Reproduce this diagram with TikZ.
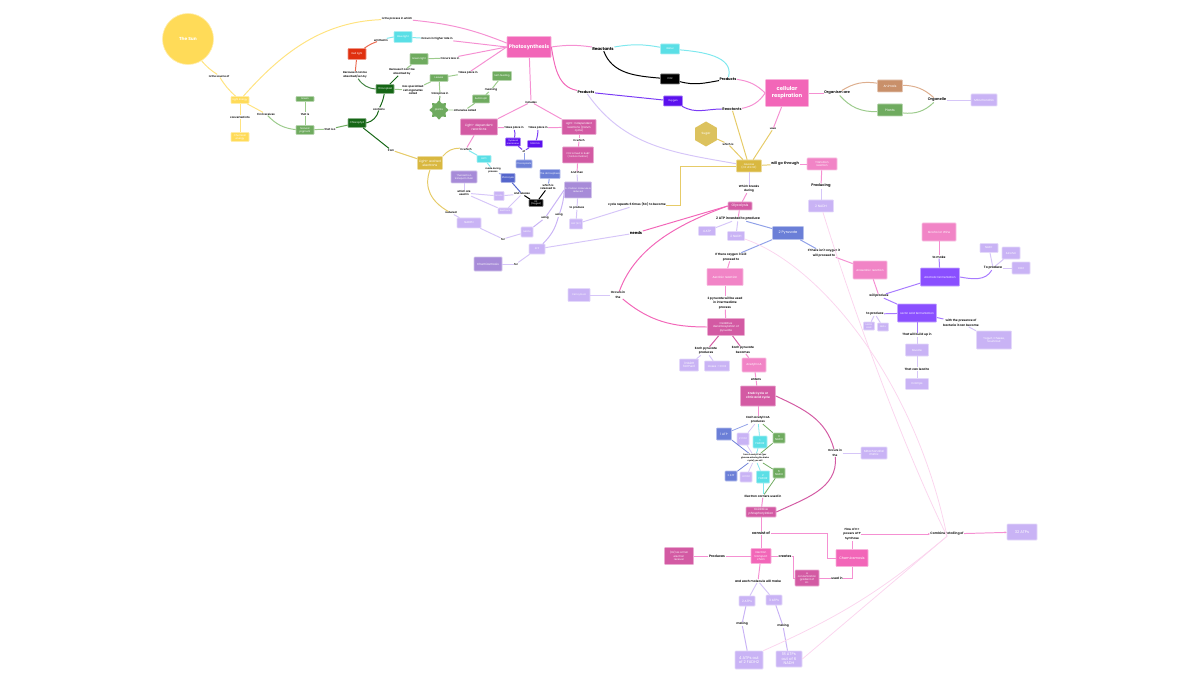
\documentclass[tikz,border=0pt]{standalone}
\usepackage{fontspec}
\setmainfont{Poppins}
\newfontfamily\medfont{Poppins SemiBold}
\usetikzlibrary{shapes.geometric,arrows.meta}
\definecolor{sunyel}{HTML}{FFDB58}
\definecolor{yelln}{HTML}{FFE380}
\definecolor{grn}{HTML}{6FAB5F}
\definecolor{grnln}{HTML}{9CCB8C}
\definecolor{dgrn}{HTML}{156615}
\definecolor{redb}{HTML}{E0300F}
\definecolor{redln}{HTML}{EA6A50}
\definecolor{cyn}{HTML}{5ADFE6}
\definecolor{cynln}{HTML}{7FE8EE}
\definecolor{pnk}{HTML}{F266B8}
\definecolor{pnkln}{HTML}{F590D2}
\definecolor{mag}{HTML}{D35AA3}
\definecolor{vio}{HTML}{5B10EE}
\definecolor{violn}{HTML}{7B3CF5}
\definecolor{blu}{HTML}{6B7FD7}
\definecolor{bluln}{HTML}{8FA0E8}
\definecolor{dblu}{HTML}{5566CC}
\definecolor{lil}{HTML}{C9B3F5}
\definecolor{lilln}{HTML}{D6C6F8}
\definecolor{mpr}{HTML}{A78BD8}
\definecolor{lpk}{HTML}{F184C6}
\definecolor{gld}{HTML}{D9B840}
\definecolor{goldln}{HTML}{E6CB68}
\definecolor{sug}{HTML}{DCC25E}
\definecolor{fer}{HTML}{8A4FFF}
\definecolor{ferln}{HTML}{A87BFF}
\definecolor{brn}{HTML}{C9906A}
\definecolor{brnln}{HTML}{DDAE8E}
\definecolor{fnt}{HTML}{FBD5EE}
\newcommand{\sizedfont}[2]{\pgfmathsetmacro\fsa{#1*1.22}\pgfmathsetmacro\fsb{#2*1.22}\fontsize{\fsa}{\fsb}\selectfont}
\tikzset{
    fs/.style 2 args={font=\sizedfont{#1}{#2}},
    ms/.style 2 args={font=\medfont\sizedfont{#1}{#2}},
    ts/.style 2 args={font=\fontsize{#1}{#2}\bfseries\selectfont},
    mybox/.style={rectangle, rounded corners=1pt, fill=#1, draw=#1!50!white, line width=.9pt, text=white, align=center, inner sep=0pt, fs={3.2}{3.8}},
    wh/.style 2 args={minimum width=#1*0.05cm, minimum height=#2*0.05cm},
    mylabel/.style={align=center, inner sep=.6pt, text=black, ms={3.1}{4.3}},
    midlabel/.style={align=center, inner sep=.6pt, text=black, ms={4.3}{5.6}},
    biglabel/.style={align=center, inner sep=.6pt, text=black, ts={5.8}{7}},
    pil/.style={line width=1.4pt},
    thin pil/.style={line width=1.1pt},
    tip pil/.style={line width=1.4pt, -{Stealth[length=3pt, width=3pt]}}
}
\begin{document}
\begin{tikzpicture}[x=0.05cm, y=-0.05cm]
    \useasboundingbox (0,0) rectangle (1200,675);
    % photosynthesis side
    \node[circle, fill=sunyel, draw=sunyel!50!white, line width=.9pt, minimum size=51*0.05cm, text=white, inner sep=0pt, ts={6.2}{7}] (sun) at (188,39) {The Sun};
    \node[mybox=sunyel, wh={18}{7}, fs={2.9}{3.6}] (lightenergy) at (240,100) {Light Energy};
    \node[mybox=sunyel, wh={18}{9}, fs={2.9}{3.6}] (chemenergy) at (240,137) {Chemical\\energy};
    \node[mybox=grn, wh={18}{5}, fs={2.9}{3.6}] (greenb) at (305,99) {Green};
    \node[mybox=grn, wh={18}{9}, fs={2.9}{3.6}] (natpig) at (305,130) {Natural\\pigment};
    \node[mybox=dgrn, wh={18}{9}, fs={2.9}{3.6}] (chlorophyll) at (357,123) {Chlorophyll};
    \node[mybox=redb, wh={18}{11}, fs={2.9}{3.6}] (redlight) at (357,54) {Red light};
    \node[mybox=cyn, wh={18}{11}, fs={2.9}{3.6}] (bluelight) at (403,37) {Blue light};
    \node[mybox=dgrn, wh={18}{9}, fs={2.9}{3.6}] (chloroplast) at (385,89) {Chloroplast};
    \node[mybox=grn, wh={18}{11}, fs={2.9}{3.6}] (greenlight) at (419,59) {Green light};
    \node[mybox=grn, wh={18}{7}, fs={2.9}{3.6}] (leaves) at (439,78) {Leaves};
    \node[star, star points=8, star point ratio=1.35, fill=grn, text=white, inner sep=1.5pt, minimum size=14*0.05cm, fs={3}{3.6}] (plants) at (439,110) {plants};
    \node[mybox=grn, wh={19}{9}, fs={2.9}{3.6}] (selffeed) at (502,76) {Self-feeding};
    \node[mybox=grn, wh={17}{8}, fs={2.9}{3.6}] (autotroph) at (481,99) {Autotroph};
    \node[mybox=pnk, wh={44}{21}, ts={7.2}{9}] (photo) at (529,47) {Photosynthesis};
    \node[mybox=mag, wh={37}{16}, fs={3.7}{4.6}] (lightdep) at (479,127) {Light- dependent\\reactions};
    \node[mybox=mag, wh={34}{15}] (lightind) at (579,127) {Light- Independent\\reactions (Calvin\\cycle)};
    \node[mybox=vio, wh={15}{8}, fs={2.5}{3}] (thylakoid) at (513,142) {Thylakoid\\membrane};
    \node[mybox=vio, wh={15}{7}, fs={2.9}{3.6}] (stroma) at (535,144) {Stroma};
    \node[mybox=blu, wh={16}{8}, fs={2.7}{3.4}] (chlorob) at (524,164) {Chloroplasts};
    \node[mybox=mag, wh={31}{16}, fs={2.8}{3.5}] (fixation) at (578,155) {CO2 is fixed to RuBP\\(Carbon fixation)};
    \node[mybox=gld, wh={25}{13}, fs={3.7}{4.6}] (excited) at (430,163) {Light- excited\\electrons};
    \node[mybox=cyn, wh={14}{7}, fs={2.9}{3.6}] (water2) at (484,159) {H2O};
    \node[mybox=dblu, wh={14}{9}, fs={2.8}{3.4}] (photolysis) at (508,178) {Photolysis};
    \node[mybox=blu, wh={20}{9}, fs={2.8}{3.4}] (atmosphere) at (550,174) {The atmosphere};
    \node[mybox=mpr, wh={26}{12}, fs={2.8}{3.4}] (etchain) at (464,177) {The Electron\\transport chain};
    \node[mybox=lil, wh={10}{9}, fs={2.7}{3.4}] (hions) at (499,196) {H ions};
    \node[mybox=lil, wh={14}{6}, fs={2.7}{3.4}] (electrons) at (505,211) {Electrons};
    \node[mybox=black, wh={14}{7}, fs={2.6}{3.1}] (oxy2) at (536,203) {O2\\(Oxygen)};
    \node[mybox=mpr, wh={27}{16}, fs={2.7}{3.4}] (sixcarbon) at (578,190) {6- Carbon molecule is\\reduced};
    \node[mybox=lil, wh={13}{10}, fs={2.6}{3.4}] (gthreep) at (576,224) {G3P (3C)};
    \node[mybox=lil, wh={24}{10}] (nadph) at (469,223) {NADPH};
    \node[mybox=lil, wh={12}{10}, fs={2.6}{3.4}] (nadphb) at (527,232) {NADPH};
    \node[mybox=lil, wh={16}{10}, fs={2.9}{3.4}] (atpb) at (537,249) {ATP};
    \node[mybox=mpr, wh={28}{14}, fs={3.4}{4}] (chemioa) at (488,264) {Chemiosmosis};
    \node[mybox=lil, wh={22}{13}, fs={2.8}{3.4}] (cytosol) at (579,295) {Cell cytosol};
    % respiration side
    \node[mybox=cyn, wh={19}{10}, fs={2.9}{3.6}] (water) at (670,49) {Water};
    \node[mybox=black, wh={19}{10}, fs={2.9}{3.6}] (cotwo) at (670,79) {CO2};
    \node[mybox=vio, wh={19}{10}, fs={2.9}{3.6}] (oxygen) at (673,101) {Oxygen};
    \node[mybox=pnk, wh={43}{27}, ts={7.6}{9.6}] (cellresp) at (787,93) {cellular\\respiration};
    \node[mybox=brn, wh={25}{12}, fs={3.7}{4.6}] (animals) at (890,86) {Animals};
    \node[mybox=grn, wh={25}{12}, fs={3.7}{4.6}] (plantsb) at (890,110) {Plants};
    \node[mybox=lil, wh={26}{12}, fs={3.4}{4.6}] (mito) at (984,100) {Mitochondria};
    \node[regular polygon, regular polygon sides=6, fill=sug, text=white, inner sep=0pt, minimum size=25*0.05cm, fs={3.5}{4}, rotate=30] (sugar) at (706,134) {\rotatebox{-30}{Sugar}};
    \node[mybox=gld, wh={25}{12}, fs={3}{3.8}] (glucose) at (749,166) {Glucose\\(C6 H12 O6)};
    \node[mybox=lpk, wh={30}{12}, fs={3.2}{4}] (transition) at (822,164) {Transition\\reaction};
    \node[mybox=lil, wh={25}{12}, fs={3.8}{4.6}] (nadhtwo) at (821,206) {2 NADH};
    \node[mybox=mag, wh={24}{8}, fs={4}{5}] (glycolysis) at (740,206) {Glycolysis};
    \node[mybox=lil, wh={17}{9}, fs={3.6}{4.4}] (fouratp) at (707,231) {4 ATP};
    \node[mybox=lil, wh={17}{9}, fs={3.6}{4.4}] (nadhgly) at (736,236) {2 NADH};
    \node[mybox=blu, wh={31}{13}, fs={4.2}{5}] (pyruvate) at (788,233) {2 Pyruvate};
    \node[mybox=lpk, wh={36}{17}, fs={3.5}{4.4}] (aerobic) at (725,277) {Aerobic reaction};
    \node[mybox=lpk, wh={34}{18}, fs={3.3}{4}] (anaerobic) at (870,270) {Anaerobic reaction};
    \node[mybox=mag, wh={37}{17}, fs={3.2}{4}] (oxidative) at (726,327) {Oxidative\\decarboxylation of\\pyruvate};
    \node[mybox=lil, wh={19}{12}, fs={3.6}{4.4}] (onenadh) at (689,365) {1 NADH\\formed};
    \node[mybox=lil, wh={25}{10}, fs={3.2}{4.4}] (losses) at (717,366) {losses : 1 CO2};
    \node[mybox=lpk, wh={24}{14}, fs={3.4}{4.4}] (acetyl) at (754,365) {AcetylCoA};
    \node[mybox=mag, wh={35}{20}, ms={3.5}{4.6}] (kreb) at (758,396) {Kreb Cycle or\\citric acid cycle};
    \node[mybox=blu, wh={15}{12}, fs={3.6}{4.4}] (atpa) at (724,434) {1 ATP};
    \node[mybox=lil, wh={12}{12}, fs={3}{4.4}] (coa) at (743,439) {2 CO2};
    \node[mybox=cyn, wh={14}{12}, fs={3.2}{4.4}] (fada) at (760,442) {1\\FADH2};
    \node[mybox=grn, wh={12}{10}, fs={3.2}{4.4}] (nadha) at (779,438) {3\\NADH};
    \node[mybox=blu, wh={12}{10}, fs={3}{4.4}] (atpc) at (731,476) {2 ATP};
    \node[mybox=lil, wh={12}{10}, fs={3}{4.4}] (cob) at (746,477) {4 CO2};
    \node[mybox=cyn, wh={13}{12}, fs={3.2}{4.4}] (fadb) at (763,477) {2\\FADH2};
    \node[mybox=grn, wh={12}{10}, fs={3.2}{4.4}] (nadhb) at (779,473) {6\\NADH};
    \node[mybox=mag, wh={30}{10}, fs={3.5}{4.2}] (oxphos) at (761,512) {Oxidative\\phosphorylation};
    \node[mybox=lil, wh={26}{12}, fs={3.4}{4.2}] (matrix) at (874,453) {Mitochondrial\\matrix};
    \node[mybox=pnk, wh={20}{15}] (etc) at (761,556) {Electron\\transport\\chain};
    \node[mybox=mag, wh={29}{17}, fs={3}{3.8}] (receiver) at (679,556) {(O2) as a final\\electron\\receiver};
    \node[mybox=mag, wh={24}{16}, fs={3}{3.6}] (gradient) at (807,578) {a\\concentration\\gradient of\\H+};
    \node[mybox=pnk, wh={32}{17}, fs={4}{4.8}] (chemiob) at (852,558) {Chemiosmosis};
    \node[mybox=lil, wh={16}{10}, fs={3.6}{4.4}] (twoatps) at (747,601) {2 ATPs};
    \node[mybox=lil, wh={16}{10}, fs={3.6}{4.4}] (threeatps) at (774,600) {3 ATPs};
    \node[mybox=lil, wh={28}{18}, fs={4.5}{5.4}] (fouratps) at (749,660) {4 ATPs out\\of 2 FADH2};
    \node[mybox=lil, wh={26}{16}, fs={4.5}{5.2}] (eighteen) at (789,659) {18  ATPs\\out of 6\\NADH};
    \node[mybox=lil, wh={30}{16}, fs={4.5}{5.2}] (thirtytwo) at (1022,532) {32 ATPs};
    % fermentation
    \node[mybox=lpk, wh={34}{18}, fs={3.4}{4}] (wine) at (939,232) {Alcohol or Wine};
    \node[mybox=fer, wh={39}{18}] (alcferm) at (940,277) {Alcoholic fermentation};
    \node[mybox=fer, wh={39}{18}] (lacferm) at (917,313) {Lactic Acid fermentation};
    \node[mybox=lil, wh={18}{9}] (nada) at (989,248) {NAD+};
    \node[mybox=lil, wh={18}{12}] (alcohol) at (1011,253) {Alcohol};
    \node[mybox=lil, wh={18}{12}] (cotwob) at (1021,268) {CO2};
    \node[mybox=lil, wh={11}{8}, fs={2.7}{3.2}] (lacid) at (869,326) {Lactic\\Acid};
    \node[mybox=lil, wh={11}{8}, fs={2.7}{3.2}] (nadb) at (883,327) {NAD+};
    \node[mybox=lil, wh={35}{18}] (yogurt) at (994,340) {Yogurt, Cheese,\\Sourkraut};
    \node[mybox=lil, wh={23}{12}] (muscle) at (917,350) {Muscle};
    \node[mybox=lil, wh={23}{11}] (cramps) at (917,384) {Cramps};
    % labels
    \node[mylabel] (lsource) at (219,76) {Is the source of};
    \node[mylabel] (lprocess) at (397,19) {is the process in which};
    \node[mylabel] (lconvert) at (240,117) {converted into};
    \node[mylabel] (lfirst) at (266,114) {First receives};
    \node[mylabel] (lthatis) at (305,114) {that is};
    \node[mylabel] (lthatisa) at (330,129) {that is a};
    \node[mylabel] (lcontains) at (379,109) {contains};
    \node[mylabel] (lfrom) at (391,150) {from};
    \node[mylabel] (lemitted) at (381,40) {emitted in};
    \node[mylabel] (lhigher) at (437,39) {Occurs in higher rate in};
    \node[mylabel] (lless) at (450,58) {Occurs less in};
    \node[mylabel] (ltakes) at (468,73) {Takes place in};
    \node[mylabel] (lcan) at (355,75) {Because it can be\\absorbed/sen by};
    \node[mylabel] (lcant) at (402,72) {Because it can't be\\absorbed by};
    \node[mylabel] (lspecial) at (413,90) {Has specialized\\cell organelles\\called};
    \node[mylabel] (ltranspire) at (440,94) {transpires in};
    \node[mylabel] (lother) at (465,110) {otherwise called};
    \node[mylabel] (lmeaning) at (491,90) {meaning};
    \node[mylabel] (lincludes) at (531,102) {includes};
    \node[mylabel] (ltakesa) at (514,128) {Takes place in};
    \node[mylabel] (ltakesb) at (538,128) {Takes place in};
    \node[mylabel] (lof) at (524,151) {of};
    \node[mylabel] (lwhicha) at (466,149) {In which};
    \node[mylabel] (lwhichb) at (579,140) {In which};
    \node[mylabel, ms={2.7}{3.6}] (lmade) at (493,170) {made during\\process};
    \node[mylabel] (lrelease) at (522,194) {and release};
    \node[mylabel] (lused) at (464,193) {which are\\used in};
    \node[mylabel] (lreleased) at (548,187) {which is\\released to};
    \node[mylabel] (lthen) at (577,173) {And then};
    \node[mylabel] (lproduce) at (577,208) {to produce};
    \node[mylabel] (lusinga) at (545,218) {using};
    \node[mylabel] (lusingb) at (559,215) {using};
    \node[mylabel] (lreduced) at (451,213) {reduced};
    \node[mylabel] (lfora) at (503,239) {for};
    \node[mylabel] (lforb) at (516,264) {for};
    \node[mylabel, ms={3.5}{4.8}] (lcycle) at (637,205) {cycle repeats 6 times (6C) to become};
    \node[midlabel, ts={5.6}{6}] (lneeds) at (636,233) {needs};
    \node[mylabel, ms={3.5}{5.2}] (loccura) at (618,295) {Occurs in\\the};
    \node[biglabel] (lreact) at (603,49) {Reactants};
    \node[midlabel, ts={5.2}{6}] (lprod) at (586,92) {Products};
    \node[midlabel, ts={5.2}{6}] (lproda) at (728,79) {Products};
    \node[midlabel] (lreacta) at (732,109) {Reactants};
    \node[midlabel] (lorganism) at (837,93) {Organism are};
    \node[midlabel] (lorganelle) at (937,100) {Organelle};
    \node[mylabel] (lwhichis) at (728,144) {which is};
    \node[mylabel] (luses) at (773,129) {uses};
    \node[midlabel] (lthrough) at (785,164) {will go through};
    \node[midlabel] (lproducing) at (821,186) {Producing};
    \node[mylabel, ms={3.4}{5}] (lbreaks) at (749,189) {Which breaks\\during};
    \node[midlabel, ms={3.9}{5}] (linvest) at (738,219) {2 ATP invested to produce};
    \node[mylabel, ms={3.5}{5.2}] (lisoxy) at (731,257) {If there oxygen it will\\proceed to};
    \node[mylabel, ms={3.5}{5.2}] (lnooxy) at (824,253) {If there isn't oxygen it\\will proceed to};
    \node[mylabel, ms={3.5}{5.2}] (lintermed) at (725,303) {2 pyruvate will be used\\in intermediate\\process};
    \node[mylabel, ms={3.5}{5.2}] (lpyrprod) at (706,351) {Each pyruvate\\produces};
    \node[mylabel, ms={3.5}{5.2}] (lbecomes) at (743,350) {Each pyruvate\\becomes};
    \node[mylabel, ms={3.6}{5}] (lenters) at (756,379) {enters};
    \node[mylabel, ms={3.4}{5}] (leach) at (758,420) {Each AcetylCoA\\produces};
    \node[mylabel, ms={2.4}{3.7}] (lfromtwo) at (755,458) {from 2 acetylCoA (per\\glucose entering the krebs\\cycle) you will};
    \node[mylabel, ms={3.5}{5}] (lcarriers) at (763,496) {Electron carriers used in};
    \node[mylabel, ms={3.4}{5.2}] (loccurb) at (835,453) {Occurs in\\the};
    \node[midlabel] (lconsist) at (761,533) {consist of};
    \node[midlabel, ms={3.9}{5}] (letcprod) at (717,556) {Produces};
    \node[midlabel, ms={3.9}{5}] (lcreates) at (785,556) {creates};
    \node[mylabel, ms={3.6}{5}] (lusedin) at (837,578) {used in};
    \node[mylabel, ms={3.4}{5.2}] (lflow) at (852,534) {Flow of H+\\powers ATP\\Synthase};
    \node[mylabel, ms={3.6}{5}] (lmolecule) at (758,581) {and each molecule will make};
    \node[mylabel, ms={3.4}{5}] (lmakinga) at (742,624) {making};
    \node[mylabel, ms={3.4}{5}] (lmakingb) at (783,626) {making};
    \node[mylabel, ms={3.7}{5}] (lcombine) at (947,534) {Combine totalling of};
    \node[mylabel, ms={3.6}{5}] (lmake) at (939,257) {to make};
    \node[mylabel, ms={3.7}{5}] (ltoproduce) at (993,268) {To produce};
    \node[mylabel, ms={3.6}{5}] (lwillprod) at (879,296) {will produce};
    \node[mylabel, ms={3.6}{5}] (ltoprodb) at (875,314) {to produce};
    \node[mylabel, ms={3.5}{5.2}] (lbacteria) at (961,323) {with the presence of\\bacteria it can become};
    \node[mylabel, ms={3.5}{5}] (lbuild) at (917,335) {That will build up in};
    \node[mylabel, ms={3.5}{5}] (llead) at (917,369) {That can lead to};
    % connectors left
    \draw[pil, yelln] (sun) to[bend right=8] (lsource);
    \draw[pil, yelln] (lsource) to[bend right=8] (lightenergy);
    \draw[pil, yelln] (lightenergy) .. controls (280,55) and (320,22) .. (lprocess);
    \draw[pil, pnkln] (lprocess) to[bend left=8] (photo.170);
    \draw[pil, yelln] (lightenergy) -- (lconvert);
    \draw[pil, yelln] (lconvert) -- (chemenergy);
    \draw[pil, yelln] (lightenergy) -- (lfirst);
    \draw[pil, grnln] (lfirst) to[bend right=20] (natpig);
    \draw[pil, grnln] (greenb) -- (lthatis);
    \draw[pil, grnln] (lthatis) -- (natpig);
    \draw[pil, grnln] (natpig) -- (lthatisa);
    \draw[pil, grn] (lthatisa) -- (chlorophyll);
    \draw[pil, dgrn] (chlorophyll.east) to[bend right=30] (lcontains);
    \draw[pil, dgrn] (lcontains) to[bend right=8] (chloroplast);
    \draw[pil, dgrn] (chlorophyll) -- (lfrom);
    \draw[pil, goldln] (lfrom) -- (excited);
    \draw[pil, dgrn!80] (chloroplast) to[bend left=25] (lcan);
    \draw[pil, redln] (lcan) -- (redlight);
    \draw[pil, redln] (redlight) to[bend left=8] (lemitted);
    \draw[pil, cynln] (lemitted) to[bend left=8] (bluelight);
    \draw[pil, cynln] (bluelight) -- (lhigher);
    \draw[pil, pnkln] (lhigher) -- (photo.west);
    \draw[pil, dgrn] (chloroplast) -- (lcant);
    \draw[pil, grnln] (lcant) -- (greenlight);
    \draw[pil, grnln] (greenlight) -- (lless);
    \draw[pil, pnkln] (lless) -- (photo.west);
    \draw[pil, grnln] (chloroplast) -- (lspecial);
    \draw[pil, grnln] (lspecial) -- (leaves);
    \draw[pil, grnln] (leaves) -- (ltakes);
    \draw[pil, pnkln] (ltakes) -- (photo.west);
    \draw[pil, grnln] (leaves) -- (ltranspire);
    \draw[pil, grn] (ltranspire) -- (plants);
    \draw[pil, grnln] (plants) -- (lother);
    \draw[pil, grnln] (lother) -- (autotroph);
    \draw[pil, grnln] (autotroph) -- (lmeaning);
    \draw[pil, grnln] (lmeaning) -- (selffeed);
    \draw[pil, pnkln] (photo) -- (lincludes);
    \draw[pil, pnkln] (lincludes) -- (lightdep.north east);
    \draw[pil, pnkln] (lincludes) -- (lightind.north west);
    \draw[pil, pnkln] (lightdep) -- (ltakesa);
    \draw[pil, violn] (ltakesa) to[bend left=15] (thylakoid);
    \draw[pil, pnkln] (lightind) -- (ltakesb);
    \draw[pil, violn] (ltakesb) to[bend left=8] (stroma);
    \draw[pil, violn] (thylakoid) -- (lof);
    \draw[pil, violn] (stroma) -- (lof);
    \draw[pil, bluln] (lof) -- (chlorob);
    \draw[pil, pnkln] (lightdep) -- (lwhicha);
    \draw[pil, goldln] (lwhicha) to[bend right=25] (excited.north east);
    \draw[pil, cynln] (lwhicha) -- (water2);
    \draw[pil, cynln] (water2) -- (lmade);
    \draw[pil, bluln] (lmade) -- (photolysis);
    \draw[pil, dblu] (photolysis) -- (lrelease);
    \draw[pil, black] (lrelease) -- (oxy2);
    \draw[pil, lilln] (lrelease) -- (hions);
    \draw[pil, lilln] (lrelease) -- (electrons);
    \draw[pil, black] (oxy2) -- (lreleased);
    \draw[pil, bluln] (lreleased) -- (atmosphere);
    \draw[pil, lilln] (hions) -- (lused);
    \draw[pil, lilln] (electrons) -- (lused);
    \draw[pil, lilln] (lused) -- (etchain);
    \draw[pil, goldln] (excited.south) to[out=-110, in=150, looseness=1.1] (lreduced);
    \draw[pil, lilln] (lreduced) -- (nadph);
    \draw[pil, lilln] (nadph) -- (lfora);
    \draw[pil, lilln] (lfora) -- (nadphb);
    \draw[pil, lil] (nadphb) -- (lusinga);
    \draw[pil, lil] (lusinga) -- (sixcarbon.west);
    \draw[pil, lil] (atpb) to[bend right=15] (lusingb);
    \draw[pil, lil] (lusingb) to[bend right=8] (sixcarbon.west);
    \draw[pil, lilln] (atpb) -- (lforb);
    \draw[pil, lilln] (lforb) -- (chemioa);
    \draw[pil, pnkln] (lightind) -- (lwhichb);
    \draw[pil, pnkln] (lwhichb) -- (fixation);
    \draw[pil, pnkln] (fixation) -- (lthen);
    \draw[pil, lilln] (lthen) -- (sixcarbon);
    \draw[pil, lilln] (sixcarbon) -- (lproduce);
    \draw[pil, lilln] (lproduce) -- (gthreep);
    \draw[pil, lilln] (gthreep) -- (lcycle);
    % connectors top right
    \draw[pil, pnkln] (photo.east) to[bend left=8] (lreact);
    \draw[pil, cynln] (lreact) to[bend left=10] (water);
    \draw[pil, black] (lreact) to[out=-70, in=175] (cotwo);
    \draw[pil, pnk] (photo.east) to[out=-80, in=170] (lprod);
    \draw[pil, violn] (lprod) -- (oxygen);
    \draw[pil, lilln] (lprod) to[out=-55, in=170] (glucose);
    \draw[pil, cynln] (water) to[out=-5, in=75] (lproda);
    \draw[pil, black] (cotwo) to[out=-15, in=190] (lproda);
    \draw[pil, pnkln] (lproda) to[bend left=18] (cellresp.west);
    \draw[pil, violn] (oxygen) to[out=-30, in=180] (lreacta);
    \draw[pil, pnkln] (lreacta) to[bend right=22] (cellresp.west);
    \draw[pil, goldln] (lreacta) -- (glucose);
    \draw[pil, pnkln] (cellresp) -- (luses);
    \draw[pil, goldln] (luses) -- (glucose);
    \draw[pil, goldln] (sugar) -- (lwhichis);
    \draw[pil, goldln] (lwhichis) -- (glucose);
    \draw[pil, pnkln] (cellresp) -- (lorganism);
    \draw[pil, brnln] (lorganism) to[bend left=20] (animals);
    \draw[pil, grnln] (lorganism) to[bend right=25] (plantsb);
    \draw[pil, brnln] (animals) to[bend left=20] (lorganelle);
    \draw[pil, grnln] (plantsb) to[bend right=25] (lorganelle);
    \draw[pil, lilln] (lorganelle) -- (mito);
    \draw[pil, goldln] (glucose) -- (lthrough);
    \draw[pil, pnkln] (lthrough) -- (transition);
    \draw[pil, pnkln] (transition) -- (lproducing);
    \draw[pil, lilln] (lproducing) -- (nadhtwo);
    \draw[pil, lilln] (glucose) -- (lbreaks);
    \draw[pil, pnkln] (lbreaks) -- (glycolysis);
    \draw[pil, goldln] (glucose.west) -| (680,205) -- (lcycle);
    % glycolysis
    \draw[pil, pnkln] (glycolysis) -- (linvest);
    \draw[pil, lilln] (linvest) -- (fouratp);
    \draw[pil, lilln] (linvest) -- (nadhgly);
    \draw[pil, bluln] (linvest) -- (pyruvate);
    \draw[pil, pnk] (glycolysis.west) -- (lneeds);
    \draw[pil, lilln] (lneeds) -- (atpb);
    \draw[pil, pnk] (glycolysis.west) to[out=200, in=70, looseness=.9] (loccura);
    \draw[pil, lilln] (loccura) -- (cytosol);
    \draw[pil, pnk] (loccura) to[out=-40, in=180] (oxidative);
    \draw[pil, bluln] (pyruvate) -- (lisoxy);
    \draw[pil, pnkln] (lisoxy) -- (aerobic);
    \draw[pil, bluln] (pyruvate) -- (lnooxy);
    \draw[pil, pnkln] (lnooxy) -- (anaerobic);
    \draw[pil, pnkln] (aerobic) -- (lintermed);
    \draw[pil, pnkln] (lintermed) -- (oxidative);
    \draw[pil, mag] (oxidative) -- (lpyrprod);
    \draw[pil, mag] (oxidative) -- (lbecomes);
    \draw[pil, lilln] (lpyrprod) -- (onenadh);
    \draw[pil, lilln] (lpyrprod) -- (losses);
    \draw[pil, pnkln] (lbecomes) -- (acetyl);
    \draw[pil, pnkln] (acetyl) -- (lenters);
    \draw[pil, pnkln] (lenters) -- (kreb);
    % krebs
    \draw[pil, pnkln] (kreb) -- (leach);
    \draw[thin pil, bluln] (leach) -- (atpa);
    \draw[thin pil, lilln] (leach) -- (coa);
    \draw[thin pil, cynln] (leach) -- (fada);
    \draw[thin pil, grn] (leach) -- (nadha);
    \draw[thin pil, blu] (atpa) -- (lfromtwo);
    \draw[thin pil, lilln] (coa) -- (lfromtwo);
    \draw[thin pil, cynln] (fada) -- (lfromtwo);
    \draw[thin pil, grn] (nadha) -- (lfromtwo);
    \draw[thin pil, blu] (lfromtwo) -- (atpc);
    \draw[thin pil, lilln] (lfromtwo) -- (cob);
    \draw[thin pil, cynln] (lfromtwo) -- (fadb);
    \draw[thin pil, grn] (lfromtwo) -- (nadhb);
    \draw[thin pil, cynln] (fadb) -- (lcarriers);
    \draw[thin pil, grn] (nadhb) -- (lcarriers);
    \draw[pil, pnkln] (lcarriers) -- (oxphos);
    \draw[pil, mag] (kreb.east) to[out=-25, in=105] (loccurb);
    \draw[pil, mag] (loccurb) to[out=-85, in=25] (oxphos.east);
    \draw[pil, lilln] (loccurb) -- (matrix);
    % electron transport
    \draw[pil, pnkln] (oxphos) -- (lconsist);
    \draw[pil, pnkln] (lconsist) -- (etc);
    \draw[pil, pnkln] (lconsist) -| (827,558) -- (chemiob);
    \draw[pil, pnkln] (etc) -- (letcprod);
    \draw[pil, pnkln] (letcprod) -- (receiver);
    \draw[pil, pnkln] (etc) -- (lcreates);
    \draw[pil, pnkln] (lcreates) -| (793,578) -- (gradient);
    \draw[pil, pnkln] (gradient) -- (lusedin);
    \draw[pil, pnkln] (lusedin) -| (chemiob);
    \draw[pil, pnkln] (chemiob) -- (lflow);
    \draw[tip pil, pnkln] (lflow) -- (lcombine);
    \draw[tip pil, pnkln] (lcombine) -- (thirtytwo);
    \draw[pil, pnkln] (etc) -- (lmolecule);
    \draw[pil, lilln] (lmolecule) -- (twoatps);
    \draw[pil, lilln] (lmolecule) -- (threeatps);
    \draw[pil, lil] (twoatps) -- (lmakinga);
    \draw[pil, lil] (lmakinga) -- (fouratps);
    \draw[pil, lil] (threeatps) -- (lmakingb);
    \draw[pil, lil] (lmakingb) -- (eighteen);
    % faint totals
    \draw[thin pil, fnt] (fouratps.north east) to[bend right=8] (lcombine.south);
    \draw[thin pil, fnt] (eighteen.east) -- (lcombine.south);
    \draw[thin pil, fnt] (nadhtwo) .. controls (850,300) and (900,440) .. (lcombine.south);
    \draw[thin pil, fnt] (nadhgly) .. controls (820,265) and (915,380) .. (lcombine.south);
    % fermentation
    \draw[pil, pnkln] (anaerobic) -- (lwillprod);
    \draw[pil, ferln] (lwillprod) -- (alcferm);
    \draw[pil, ferln] (lwillprod) -- (lacferm);
    \draw[pil, pnkln] (wine) -- (lmake);
    \draw[pil, ferln] (lmake) -- (alcferm);
    \draw[pil, ferln] (alcferm.east) to[out=-10, in=-120] (ltoproduce);
    \draw[pil, lilln] (ltoproduce) -- (nada);
    \draw[pil, lilln] (ltoproduce) -- (alcohol);
    \draw[pil, lilln] (ltoproduce) -- (cotwob);
    \draw[pil, ferln] (lacferm) -- (ltoprodb);
    \draw[pil, lilln] (ltoprodb) -- (lacid);
    \draw[pil, lilln] (ltoprodb) -- (nadb);
    \draw[pil, ferln] (lacferm) -- (lbacteria);
    \draw[pil, lilln] (lbacteria) -- (yogurt);
    \draw[pil, ferln] (lacferm) -- (lbuild);
    \draw[pil, lilln] (lbuild) -- (muscle);
    \draw[pil, lilln] (muscle) -- (llead);
    \draw[pil, lilln] (llead) -- (cramps);
\end{tikzpicture}
\end{document}
